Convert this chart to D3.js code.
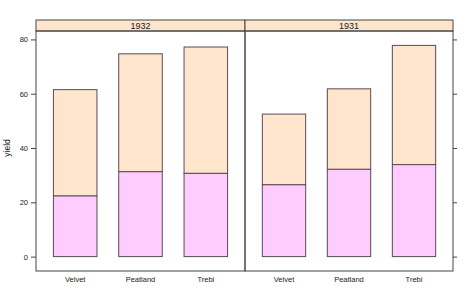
<!DOCTYPE html>
<html><head><meta charset="utf-8">
<script src="https://cdn.jsdelivr.net/npm/d3@7"></script>
<style>body{margin:0;background:#fff}svg{display:block}</style>
</head><body>
<svg id="c" width="474" height="298"></svg>
<script>
const panels = ["1932", "1931"];
const categories = ["Velvet", "Peatland", "Trebi"];
const lowerValues = { "1932": [22.4, 31.3, 30.7], "1931": [26.5, 32.2, 33.9] };
const totalValues = { "1932": [61.5, 74.7, 77.2], "1931": [52.5, 61.8, 77.8] };
const yTicks = [0, 20, 40, 60, 80];
const colors = ["#FFCCFF", "#FFE5CC"];

(function () {
const svg = d3.select("#c");
const font = "Arial, 'Liberation Sans', sans-serif";
const pTop = 31, pBottom = 271, stripTop = 20;
const panelX = [[36, 245], [245, 453]];
const y = d3.scaleLinear().domain([-5.3, 83.1]).range([pBottom, pTop]);
const stroke = "#5a4a55";

panels.forEach((p, i) => {
  const [x0, x1] = panelX[i];
  const xl = d3.scaleLinear().domain([0.4, 3.6]).range([x0, x1]);
  const bw = xl(1) - xl(0);
  const g = svg.append("g");
  categories.forEach((c, k) => {
    const cx = xl(k + 1);
    const w = bw * 2 / 3;
    const lo = lowerValues[p][k], tot = totalValues[p][k];
    g.append("rect").attr("x", cx - w / 2).attr("width", w)
      .attr("y", y(lo)).attr("height", y(0) - y(lo))
      .attr("fill", colors[0]).attr("stroke", stroke).attr("stroke-width", 1);
    g.append("rect").attr("x", cx - w / 2).attr("width", w)
      .attr("y", y(tot)).attr("height", y(lo) - y(tot))
      .attr("fill", colors[1]).attr("stroke", stroke).attr("stroke-width", 1);
    svg.append("text").attr("x", cx).attr("y", 282).attr("text-anchor", "middle")
      .attr("font-family", font).attr("font-size", 7.5).attr("fill", "#222").text(c);
  });
  svg.append("rect").attr("x", x0).attr("y", stripTop).attr("width", x1 - x0).attr("height", pTop - stripTop)
    .attr("fill", "#FFE5CC").attr("stroke", "#444").attr("stroke-width", 1);
  svg.append("text").attr("x", (x0 + x1) / 2).attr("y", 29).attr("text-anchor", "middle")
    .attr("font-family", font).attr("font-size", 9).attr("fill", "#222").text(p);
  svg.append("rect").attr("x", x0).attr("y", pTop).attr("width", x1 - x0).attr("height", pBottom - pTop)
    .attr("fill", "none").attr("stroke", "#444").attr("stroke-width", 1);
});

const axL = svg.append("g").attr("transform", "translate(36,0)")
  .call(d3.axisLeft(y).tickValues(yTicks).tickSize(5).tickPadding(3));
axL.select(".domain").remove();
axL.selectAll("line").attr("stroke", "#444");
axL.selectAll("text").attr("font-family", font).attr("font-size", 7.5).attr("fill", "#222");
const axR = svg.append("g").attr("transform", "translate(453,0)")
  .call(d3.axisRight(y).tickValues(yTicks).tickSize(4).tickFormat(""));
axR.select(".domain").remove();
axR.selectAll("line").attr("stroke", "#444");

svg.append("text").attr("transform", "translate(10,148) rotate(-90)").attr("text-anchor", "middle")
  .attr("font-family", font).attr("font-size", 8.5).attr("fill", "#222").text("yield");
})();
</script>
</body></html>
